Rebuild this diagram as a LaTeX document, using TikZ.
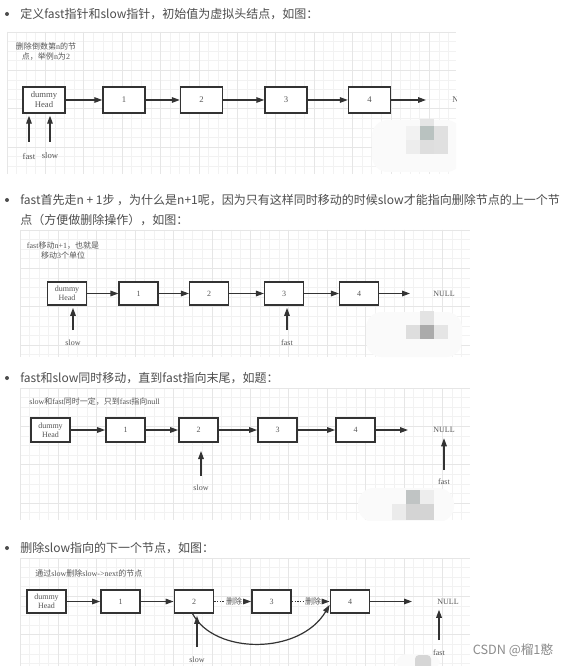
\documentclass[tikz,border=0pt]{standalone}
\usepackage{fontspec}
\setmainfont{Liberation Serif}
\newfontfamily\cjk{Noto Sans CJK SC}
\usetikzlibrary{arrows.meta}
\definecolor{ln}{HTML}{333333}
\definecolor{txt}{HTML}{4D4D4D}
\definecolor{dtxt}{HTML}{555555}
\definecolor{gmin}{HTML}{F2F2F2}
\definecolor{gmaj}{HTML}{E6E6E6}
\definecolor{bla}{HTML}{B9C2C0}
\definecolor{blb}{HTML}{C0C4C4}
\definecolor{blbg}{HTML}{FAFAFA}
\newcommand{\gridpanel}[4]{%
  \begin{scope}
    \clip (#1,#2) rectangle (#3,#4);
    \foreach \i in {0,...,50} {\draw[gmin,line width=0.5pt] ({#1+\i*9.6},#2) -- ({#1+\i*9.6},#4);}
    \foreach \i in {0,...,16} {\draw[gmin,line width=0.5pt] (#1,{#2+\i*9.6}) -- (#3,{#2+\i*9.6});}
    \foreach \i in {0,...,13} {\draw[gmaj,line width=0.6pt] ({#1+\i*38.4},#2) -- ({#1+\i*38.4},#4);}
    \foreach \i in {0,...,4} {\draw[gmaj,line width=0.6pt] (#1,{#2+\i*38.4}) -- (#3,{#2+\i*38.4});}
  \end{scope}}
\begin{document}
\begin{tikzpicture}[x=0.75pt,y=-0.75pt,
  btxt/.style={anchor=west,inner sep=0pt,text=txt,font=\cjk\fontsize{9}{11}\selectfont},
  bigbox/.style={draw=ln,line width=1.1pt,fill=white,minimum width=31.5pt,minimum height=19.5pt,inner sep=0pt,text=dtxt,align=center,font=\fontsize{6.5}{7.5}\selectfont},
  smbox/.style={bigbox,minimum width=29pt,minimum height=17.5pt,font=\fontsize{6}{7}\selectfont},
  arr/.style={draw=ln,line width=0.9pt,-{Triangle[length=6pt,width=4.2pt]}},
  dots/.style={draw=ln,line width=1pt,dash pattern=on 1pt off 1pt},
  lbl/.style={inner sep=0pt,text=dtxt,font=\fontsize{6}{7}\selectfont},
  lblbig/.style={inner sep=0pt,text=dtxt,font=\fontsize{6.5}{7.5}\selectfont},
  note/.style={inner sep=0pt,text=dtxt,font=\fontsize{6}{7.5}\selectfont,align=center},
  blob/.style={fill=#1,draw=none}]
\useasboundingbox (0,0) rectangle (569,666);
\fill[white] (0,0) rectangle (569,666);

% ---------------- panel 1 ----------------
\fill[txt] (7,14) circle (2);
\node[btxt] (t1) at (20,14) {定义fast指针和slow指针，初始值为虚拟头结点，如图：};
\gridpanel{7}{32}{456}{174}
\begin{scope}
\clip (7,32) rectangle (456,174);
\node[note] (c1) at (46,52) {{\cjk 删除倒数第}n{\cjk 的节}\\{\cjk 点，举例}n{\cjk 为}2};
\node[bigbox] (d1) at (44,100) {dummy\\Head};
\node[bigbox] (n11) at (124,100) {1};
\node[bigbox] (n12) at (201.5,100) {2};
\node[bigbox] (n13) at (286,100) {3};
\node[bigbox] (n14) at (369.5,100) {4};
\coordinate (e1) at (426,100);
\node[lblbig,anchor=west] (null1) at (452,100) {NULL};
\draw[arr] (d1) -- (n11);
\draw[arr] (n11) -- (n12);
\draw[arr] (n12) -- (n13);
\draw[arr] (n13) -- (n14);
\draw[arr] (n14) -- (e1);
\node[lblbig] (f1) at (29,156) {fast};
\node[lblbig] (s1) at (50,156) {slow};
\coordinate (f1t) at (29,142);
\coordinate (s1t) at (50,142);
\draw[arr,shorten >=1.5] (f1t) -- (f1t |- d1.south);
\draw[arr,shorten >=1.5] (s1t) -- (s1t |- d1.south);
\fill[blob=blbg,rounded corners=12] (372,120) rectangle (462,172);
\fill[blob=black!10] (420,119) rectangle (434,126);
\fill[blob=black!5] (406,126) rectangle (420,140);
\fill[blob=bla] (420,126) rectangle (434,140);
\fill[blob=black!12] (434,126) rectangle (448,154);
\fill[blob=black!7] (406,140) rectangle (420,154);
\fill[blob=black!13] (420,140) rectangle (434,154);
\end{scope}

% ---------------- panel 2 ----------------
\fill[txt] (7,200) circle (2);
\node[btxt] (t2) at (20,200) {fast首先走n + 1步 ，为什么是n+1呢，因为只有这样同时移动的时候slow才能指向删除节点的上一个节};
\node[btxt] (t2b) at (20,220) {点（方便做删除操作），如图：};
\gridpanel{20}{230}{470}{357}
\begin{scope}
\clip (20,230) rectangle (470,357);
\node[note] (c2) at (63,250) {fast{\cjk 移动}n+1{\cjk ，也就是}\\{\cjk 移动}3{\cjk 个单位}};
\node[smbox] (d2) at (67,293.5) {dummy\\Head};
\node[smbox] (n21) at (138.5,293.5) {1};
\node[smbox] (n22) at (209,293.5) {2};
\node[smbox] (n23) at (284,293.5) {3};
\node[smbox] (n24) at (359,293.5) {4};
\coordinate (e2) at (410,293.5);
\node[lbl] (null2) at (444,293.5) {NULL};
\draw[arr] (d2) -- (n21);
\draw[arr] (n21) -- (n22);
\draw[arr] (n22) -- (n23);
\draw[arr] (n23) -- (n24);
\draw[arr] (n24) -- (e2);
\node[lbl] (s2) at (73,343) {slow};
\node[lbl] (f2) at (287,343) {fast};
\coordinate (s2t) at (73,330);
\coordinate (f2t) at (287,330);
\draw[arr,shorten >=1.5] (s2t) -- (s2t |- d2.south);
\draw[arr,shorten >=1.5] (f2t) -- (f2t |- n23.south);
\fill[blob=blbg,rounded corners=12] (366,312) rectangle (462,357);
\fill[blob=black!11] (420,311) rectangle (434,325);
\fill[blob=black!13] (406,325) rectangle (420,339);
\fill[blob=black!33] (420,325) rectangle (434,339);
\fill[blob=black!10] (434,325) rectangle (448,339);
\end{scope}

% ---------------- panel 3 ----------------
\fill[txt] (7,378) circle (2);
\node[btxt] (t3) at (20,378) {fast和slow同时移动，直到fast指向末尾，如题：};
\gridpanel{20}{388}{470}{520}
\begin{scope}
\clip (20,388) rectangle (470,520);
\node[note,anchor=west] (c3) at (29,402) {slow{\cjk 和}fast{\cjk 同时一定，只到}fast{\cjk 指向}null};
\node[smbox,minimum width=29.5pt,minimum height=18pt] (d3) at (50.5,430) {dummy\\Head};
\node[smbox,minimum width=29.5pt,minimum height=18pt] (n31) at (125.5,430) {1};
\node[smbox,minimum width=29.5pt,minimum height=18pt] (n32) at (198.5,430) {2};
\node[smbox,minimum width=29.5pt,minimum height=18pt] (n33) at (277.5,430) {3};
\node[smbox,minimum width=29.5pt,minimum height=18pt] (n34) at (355.5,430) {4};
\coordinate (e3) at (408,430);
\node[lbl] (null3) at (444,430) {NULL};
\draw[arr] (d3) -- (n31);
\draw[arr] (n31) -- (n32);
\draw[arr] (n32) -- (n33);
\draw[arr] (n33) -- (n34);
\draw[arr] (n34) -- (e3);
\node[lbl] (s3) at (201,488) {slow};
\node[lbl] (f3) at (444,482) {fast};
\coordinate (s3t) at (201,476);
\coordinate (f3t) at (444,470);
\coordinate (s3h) at (201,451);
\draw[arr] (s3t) -- (s3h);
\draw[arr,shorten >=4] (f3t) -- (f3t |- null3.south);
\fill[blob=blbg,rounded corners=12] (358,488) rectangle (454,522);
\fill[blob=blb] (406,490) rectangle (420,504);
\fill[blob=black!7] (420,490) rectangle (434,504);
\fill[blob=black!8] (392,504) rectangle (406,520);
\fill[blob=black!17] (406,504) rectangle (434,520);
\end{scope}

% ---------------- panel 4 ----------------
\fill[txt] (7,548) circle (2);
\node[btxt] (t4) at (20,548) {删除slow指向的下一个节点，如图：};
\gridpanel{20}{558}{470}{666}
\begin{scope}
\clip (20,558) rectangle (470,666);
\node[note,anchor=west] (c4) at (35,573) {{\cjk 通过}slow{\cjk 删除}slow-{\textgreater}next{\cjk 的节点}};
\node[smbox,minimum width=29.5pt] (d4) at (46.5,601.5) {dummy\\Head};
\node[smbox,minimum width=29.5pt] (n41) at (120.5,601.5) {1};
\node[smbox,minimum width=29.5pt] (n42) at (194,601.5) {2};
\node[smbox,minimum width=29.5pt] (n43) at (271.5,601.5) {3};
\node[smbox,minimum width=29.5pt] (n44) at (350,601.5) {4};
\coordinate (e4) at (412,601.5);
\node[lbl] (null4) at (448,601.5) {NULL};
\draw[arr] (d4) -- (n41);
\draw[arr] (n41) -- (n42);
\node[lbl,font=\cjk\fontsize{6}{7}\selectfont,inner sep=1.5pt] (x1) at (234,601.5) {删除};
\node[lbl,font=\cjk\fontsize{6}{7}\selectfont,inner sep=1.5pt] (x2) at (313,601.5) {删除};
\draw[dots] (n42) -- (x1);
\draw[arr] (x1) -- (n43);
\draw[dots] (n43) -- (x2);
\draw[arr] (x2) -- (n44);
\draw[arr] ([xshift=-1pt]n42.south) .. controls (215,655) and (300,655) .. ([yshift=6.75pt]n44.south west);
\draw[arr] (n44) -- (e4);
\node[lbl] (s4) at (197,660) {slow};
\node[lbl] (f4) at (439,653) {fast};
\coordinate (s4t) at (197,647);
\coordinate (f4t) at (439,640);
\draw[arr,shorten >=1.5] (s4t) -- (s4t |- n42.south);
\draw[arr,shorten >=4] (f4t) -- (f4t |- null4.south);
\fill[blob=blbg,rounded corners=8] (396,654) rectangle (440,670);
\fill[blob=black!16,rounded corners=3] (415,655) rectangle (431,670);
\end{scope}
\node[inner sep=0pt,text=black!45,font=\cjk\fontsize{9.5}{11}\selectfont] (wm) at (513,650) {CSDN @榴1憨};
\end{tikzpicture}
\end{document}
